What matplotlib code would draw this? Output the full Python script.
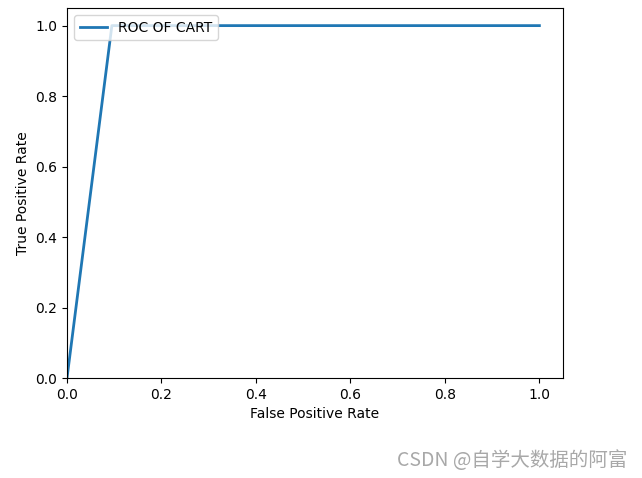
import matplotlib
matplotlib.use("Agg")
import matplotlib.pyplot as plt

fpr = [0.0, 0.095, 1.0]
tpr = [0.0, 1.0, 1.0]
label = "ROC OF CART"

fig = plt.figure(figsize=(6.42, 4.78), dpi=100)
ax = fig.add_axes([67/642, 1-378/478, (563-67)/642, (378-8)/478])
ax.plot(fpr, tpr, lw=2, label=label)
ax.set_xlim(0, 1.05)
ax.set_ylim(0, 1.05)
ax.set_xlabel("False Positive Rate")
ax.set_ylabel("True Positive Rate")
ax.legend(loc="upper left")
fig.text(627/642, 1-460/478, "CSDN @自学大数据的阿富", ha="right", va="center",
         fontsize=14, color="#a8a8a8", family=["Noto Sans CJK SC", "DejaVu Sans"])
fig.savefig("out.png", dpi=100)
